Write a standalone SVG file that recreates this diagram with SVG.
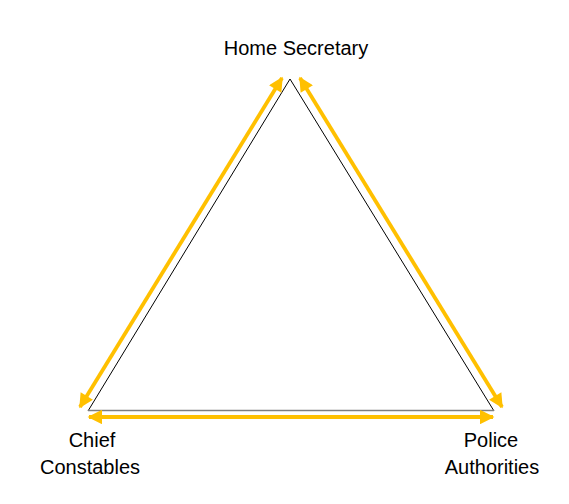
<svg xmlns="http://www.w3.org/2000/svg" width="569" height="504" viewBox="0 0 569 504">
<defs>
<marker id="ah" viewBox="0 0 10 10" refX="9" refY="5" markerWidth="4.2" markerHeight="3.8" orient="auto-start-reverse" markerUnits="strokeWidth">
<path d="M0,0 L10,5 L0,10 z" fill="#FFC000"/>
</marker>
<style>
.lbl{font-family:"Liberation Sans",Arial,sans-serif;font-size:20px;fill:#000;text-anchor:middle}
.tri{fill:none;stroke:#000;stroke-width:1}
.arr{stroke:#FFC000;stroke-width:3.8;fill:none;marker-start:url(#ah);marker-end:url(#ah)}
</style>
</defs>
<rect width="569" height="504" fill="#fff"/>
<g id="triangle">
<path class="tri" d="M290,79 L88,411 M290,79 L494,411"/>
<path d="M88,410.5 L494,410.5" stroke="#7f7f7f" stroke-width="1.5" fill="none"/>
</g>
<g id="connectors">
<line class="arr" x1="282" y1="78" x2="80" y2="407"/>
<line class="arr" x1="300" y1="78" x2="502" y2="407"/>
<line class="arr" x1="89" y1="417" x2="493" y2="417"/>
</g>
<g id="home-secretary"><text class="lbl" x="296" y="55">Home Secretary</text></g>
<g id="chief-constables"><text class="lbl" x="92" y="447">Chief</text><text class="lbl" x="90" y="474">Constables</text></g>
<g id="police-authorities"><text class="lbl" x="491" y="447">Police</text><text class="lbl" x="492" y="474">Authorities</text></g>
</svg>
